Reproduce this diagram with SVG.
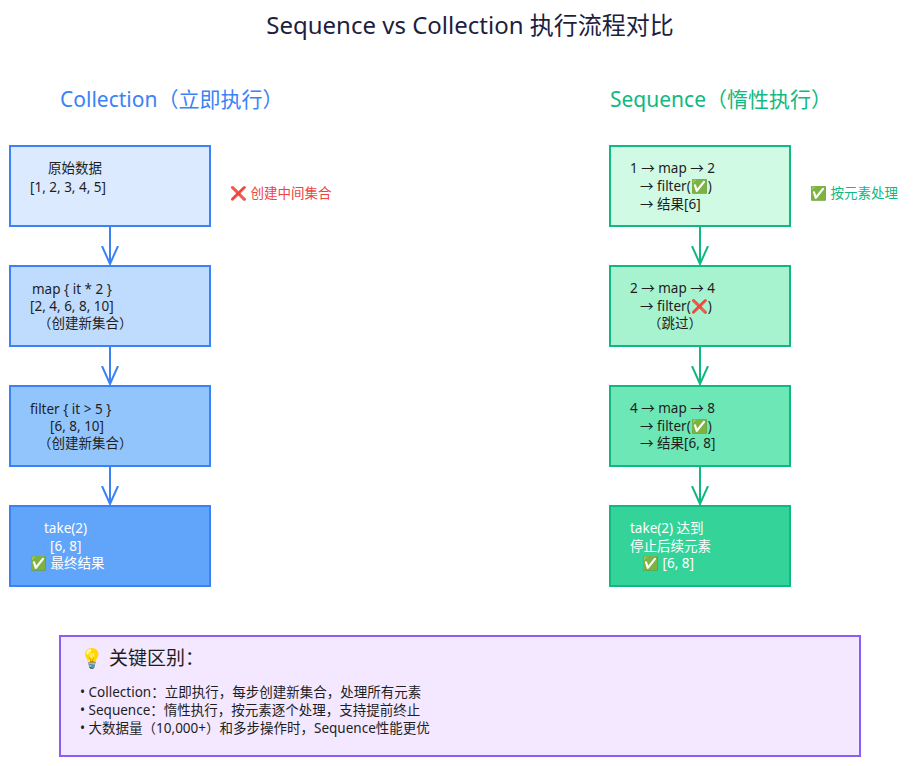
<svg xmlns="http://www.w3.org/2000/svg" width="913" height="766" viewBox="0 0 913 766">
<defs>
<style>
text{font-family:"Noto Sans","Noto Sans CJK SC",sans-serif;font-size:13.5px;fill:#1e1e1e}
.t{font-size:24px;text-anchor:middle;fill:#1e1e3f}
.h{font-size:21px}
.b{stroke-width:2}
.cb{stroke:#3b82f6}.gb{stroke:#10b981}
.w{fill:#fff}
.c{stroke-width:2;fill:none}
</style>
<marker id="ab" viewBox="0 0 20 20" refX="10" refY="18" markerWidth="20" markerHeight="20" markerUnits="userSpaceOnUse"><path d="M2 0 L10 18 L18 0" fill="none" stroke="#3b82f6" stroke-width="2"/></marker>
<marker id="ag" viewBox="0 0 20 20" refX="10" refY="18" markerWidth="20" markerHeight="20" markerUnits="userSpaceOnUse"><path d="M2 0 L10 18 L18 0" fill="none" stroke="#10b981" stroke-width="2"/></marker>
</defs>
<rect width="913" height="766" fill="#fff"/>
<text class="t" x="470" y="34">Sequence vs Collection 执行流程对比</text>
<text class="h" x="60" y="107" style="fill:#3b82f6">Collection（立即执行）</text>
<text class="h" x="610" y="107" style="fill:#10b981">Sequence（惰性执行）</text>

<g id="c1"><rect x="10" y="146" width="200" height="80" fill="#dbeafe" class="b cb"/><text x="48" y="173">原始数据</text><text x="30" y="192">[1, 2, 3, 4, 5]</text></g>
<g id="c2"><rect x="10" y="266" width="200" height="80" fill="#bfdbfe" class="b cb"/><text x="32" y="294">map { it * 2 }</text><text x="30" y="311">[2, 4, 6, 8, 10]</text><text x="38" y="328">（创建新集合）</text></g>
<g id="c3"><rect x="10" y="386" width="200" height="80" fill="#93c5fd" class="b cb"/><text x="30" y="414">filter { it &gt; 5 }</text><text x="50" y="431">[6, 8, 10]</text><text x="38" y="448">（创建新集合）</text></g>
<g id="c4"><rect x="10" y="506" width="200" height="80" fill="#60a5fa" class="b cb"/><text class="w" x="44" y="533">take(2)</text><text class="w" x="50" y="551">[6, 8]</text><text class="w" x="30" y="568">✅ 最终结果</text></g>
<g id="cn"><text x="230" y="198" style="fill:#ef4444">❌ 创建中间集合</text></g>

<g id="s1"><rect x="610" y="146" width="180" height="80" fill="#d1fae5" class="b gb"/><text x="630" y="173">1 → map → 2</text><text x="640" y="191">→ filter(✅)</text><text x="640" y="209">→ 结果[6]</text></g>
<g id="s2"><rect x="610" y="266" width="180" height="80" fill="#a7f3d0" class="b gb"/><text x="630" y="293">2 → map → 4</text><text x="640" y="311">→ filter(❌)</text><text x="648" y="328">（跳过）</text></g>
<g id="s3"><rect x="610" y="386" width="180" height="80" fill="#6ee7b7" class="b gb"/><text x="630" y="413">4 → map → 8</text><text x="640" y="431">→ filter(✅)</text><text x="640" y="448">→ 结果[6, 8]</text></g>
<g id="s4"><rect x="610" y="506" width="180" height="80" fill="#34d399" class="b gb"/><text class="w" x="630" y="533">take(2) 达到</text><text class="w" x="630" y="551">停止后续元素</text><text class="w" x="642" y="568">✅ [6, 8]</text></g>
<g id="sn"><text x="810" y="198" style="fill:#10b981">✅ 按元素处理</text></g>

<g id="connectors">
<path class="c" stroke="#3b82f6" d="M110 227 V264" marker-end="url(#ab)"/>
<path class="c" stroke="#3b82f6" d="M110 347 V384" marker-end="url(#ab)"/>
<path class="c" stroke="#3b82f6" d="M110 467 V504" marker-end="url(#ab)"/>
<path class="c" stroke="#10b981" d="M700 227 V264" marker-end="url(#ag)"/>
<path class="c" stroke="#10b981" d="M700 347 V384" marker-end="url(#ag)"/>
<path class="c" stroke="#10b981" d="M700 467 V504" marker-end="url(#ag)"/>
</g>

<g id="note"><rect x="60" y="636" width="800" height="120" fill="#f3e8ff" stroke="#8b5cf6" stroke-width="2"/>
<text x="80" y="665" style="font-size:19px">💡 关键区别：</text>
<text x="80" y="697">• Collection：立即执行，每步创建新集合，处理所有元素</text>
<text x="80" y="715">• Sequence：惰性执行，按元素逐个处理，支持提前终止</text>
<text x="80" y="733">• 大数据量（10,000+）和多步操作时，Sequence性能更优</text>
</g>
</svg>
